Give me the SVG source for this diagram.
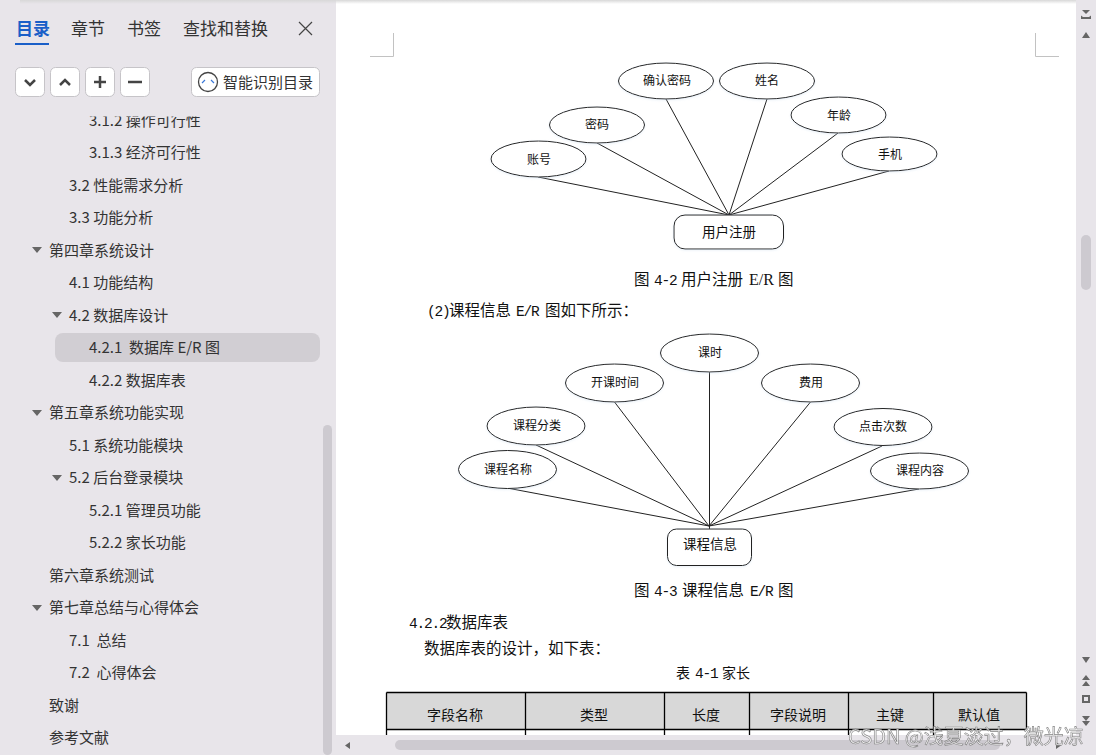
<svg xmlns="http://www.w3.org/2000/svg" width="1096" height="755" viewBox="0 0 1096 755">
<style>
text{font-family:"Noto Sans CJK SC","Noto Sans",sans-serif;fill:#333}
.t{font-size:15px;white-space:pre}
.n{font-size:12px;fill:#111;text-anchor:middle}
.m{font-size:13.500px;fill:#111;text-anchor:middle}
.d{font-size:15.500px;fill:#111}
.h{font-size:14px;fill:#111;text-anchor:middle}
.mono{font-family:"Liberation Mono",monospace;font-size:14.500px;letter-spacing:-1.200px}
.ser{font-family:"Liberation Serif",serif;font-size:16px}
.sh{fill:#fff;stroke:#222;stroke-width:1;filter:url(#glow)}
.ln{stroke:#222;stroke-width:1;fill:none}
.btn{fill:#fff;stroke:#c6c4c8;stroke-width:1}
.ic{fill:none;stroke:#444;stroke-width:2.500}
.tri{fill:#666}
.grid{fill:none;stroke:#000;stroke-width:1.300}
</style>
<defs>
<clipPath id="tc"><rect x="0" y="116.500" width="336" height="639"/></clipPath>
<filter id="glow" x="-10%" y="-15%" width="120%" height="130%"><feDropShadow dx="0" dy="1" stdDeviation="1" flood-color="#c4d6ea" flood-opacity="0.350"/></filter>
<linearGradient id="topsh" x1="0" y1="0" x2="0" y2="1"><stop offset="0" stop-color="#d8d8d8"/><stop offset="1" stop-color="#d8d8d8" stop-opacity="0"/></linearGradient>
</defs>
<rect width="1096" height="755" fill="#fff"/>
<rect x="0" y="0" width="336" height="755" fill="#e8e5ea"/>
<rect x="20" y="0" width="1056" height="4" fill="url(#topsh)"/>
<g id="sidebar-head">
<text x="16" y="35" font-size="17" font-weight="700" style="fill:#1a5fc8">目录</text>
<rect x="15" y="43" width="34" height="2" fill="#1a5fc8"/>
<text x="71" y="35" font-size="17">章节</text>
<text x="127" y="35" font-size="17">书签</text>
<text x="183" y="35" font-size="17">查找和替换</text>
<path d="M299 22L312 35M312 22L299 35" stroke="#444" stroke-width="1.200"/>
</g>
<g id="sidebar-buttons">
<rect class="btn" x="15.500" y="67.500" width="29" height="29" rx="5"/>
<path class="ic" d="M25 80L30 85L35 80"/>
<rect class="btn" x="50.500" y="67.500" width="29" height="29" rx="5"/>
<path class="ic" d="M60 85L65 80L70 85"/>
<rect class="btn" x="85.500" y="67.500" width="29" height="29" rx="5"/>
<path class="ic" d="M94 82H106M100 76V88"/>
<rect class="btn" x="120.500" y="67.500" width="29" height="29" rx="5"/>
<path class="ic" d="M128 82H142"/>
<rect class="btn" x="191.500" y="67.500" width="128" height="29" rx="5"/>
<circle cx="208" cy="82" r="9.500" fill="none" stroke="#444" stroke-width="1.300"/>
<path d="M202 83L205 80M214 83L211 80" stroke="#3a78d8" stroke-width="1.200" fill="none"/>
<text x="223" y="87.500" font-size="15">智能识别目录</text>
</g>
<g id="toc" clip-path="url(#tc)">
<rect x="55" y="333" width="265" height="29" rx="8" fill="#d1ced3"/>
<text class="t" x="89" y="126">3.1.2 操作可行性</text>
<text class="t" x="89" y="158">3.1.3 经济可行性</text>
<text class="t" x="69" y="190.500">3.2 性能需求分析</text>
<text class="t" x="69" y="223">3.3 功能分析</text>
<text class="t" x="49" y="255.500">第四章系统设计</text>
<text class="t" x="69" y="288">4.1 功能结构</text>
<text class="t" x="69" y="320.500">4.2 数据库设计</text>
<text class="t" x="89" y="353">4.2.1  数据库 E/R 图</text>
<text class="t" x="89" y="385.500">4.2.2 数据库表</text>
<text class="t" x="49" y="418">第五章系统功能实现</text>
<text class="t" x="69" y="450.500">5.1 系统功能模块</text>
<text class="t" x="69" y="483">5.2 后台登录模块</text>
<text class="t" x="89" y="515.500">5.2.1 管理员功能</text>
<text class="t" x="89" y="548">5.2.2 家长功能</text>
<text class="t" x="49" y="580.500">第六章系统测试</text>
<text class="t" x="49" y="613">第七章总结与心得体会</text>
<text class="t" x="69" y="645.500">7.1  总结</text>
<text class="t" x="69" y="678">7.2  心得体会</text>
<text class="t" x="49" y="710.500">致谢</text>
<text class="t" x="49" y="743">参考文献</text>
<path class="tri" d="M32 247H42L37 253ZM52 312H62L57 318ZM32 410H42L37 416ZM52 475H62L57 481ZM32 605H42L37 611Z"/>
</g>
<rect x="323" y="425" width="9" height="330" rx="4.500" fill="#cdcad0"/>
<g id="page-marks" class="ln" style="stroke:#c2c2c2">
<path d="M370 56.500H393.500V33"/><path d="M1059 56.500H1035.500V33"/>
</g>
<g id="connectors1" class="ln">
<line x1="538" y1="177" x2="729" y2="215"/>
<line x1="597" y1="143" x2="729" y2="215"/>
<line x1="666" y1="99" x2="729" y2="215"/>
<line x1="767" y1="99" x2="729" y2="215"/>
<line x1="838" y1="133" x2="729" y2="215"/>
<line x1="889" y1="171" x2="729" y2="215"/>
</g>
<g id="er1-zhanghao"><ellipse class="sh" cx="538.500" cy="159" rx="47.500" ry="18"/><text class="n" x="539" y="164">账号</text></g>
<g id="er1-mima"><ellipse class="sh" cx="597" cy="125" rx="47.500" ry="18"/><text class="n" x="597" y="129">密码</text></g>
<g id="er1-queren"><ellipse class="sh" cx="666" cy="81" rx="47.500" ry="18"/><text class="n" x="667" y="85">确认密码</text></g>
<g id="er1-xingming"><ellipse class="sh" cx="767" cy="81" rx="47.500" ry="18"/><text class="n" x="767" y="85">姓名</text></g>
<g id="er1-nianling"><ellipse class="sh" cx="838.500" cy="115" rx="47.500" ry="18"/><text class="n" x="839" y="120">年龄</text></g>
<g id="er1-shouji"><ellipse class="sh" cx="889.500" cy="154" rx="47.500" ry="17"/><text class="n" x="890" y="158.500">手机</text></g>
<g id="er1-root"><rect class="sh" x="674" y="215" width="109.500" height="34" rx="11"/><text class="m" x="729" y="236.500">用户注册</text></g>
<text class="d" x="634" y="285">图<tspan class="mono" x="654">4-2</tspan><tspan x="681">用户注册</tspan><tspan class="ser" x="749">E/R</tspan><tspan x="778">图</tspan></text>
<text class="d" x="427" y="316"><tspan class="mono">(2)</tspan><tspan x="449">课程信息</tspan><tspan class="mono" x="516">E/R</tspan><tspan x="545">图如下所示：</tspan></text>
<g id="connectors2" class="ln">
<line x1="507" y1="488" x2="709" y2="526"/>
<line x1="536" y1="445" x2="709" y2="526"/>
<line x1="614.500" y1="402" x2="709" y2="526"/>
<line x1="709.500" y1="372" x2="709.500" y2="529"/>
<line x1="810.500" y1="402" x2="709" y2="526"/>
<line x1="882" y1="446" x2="709" y2="526"/>
<line x1="919" y1="489" x2="709" y2="526"/>
</g>
<g id="er2-mingcheng"><ellipse class="sh" cx="507.500" cy="469.500" rx="49" ry="19"/><text class="n" x="508" y="473.500">课程名称</text></g>
<g id="er2-fenlei"><ellipse class="sh" cx="536" cy="426" rx="49" ry="19"/><text class="n" x="537" y="430">课程分类</text></g>
<g id="er2-kaike"><ellipse class="sh" cx="614.500" cy="383" rx="49" ry="19"/><text class="n" x="615" y="387">开课时间</text></g>
<g id="er2-keshi"><ellipse class="sh" cx="709.500" cy="353" rx="49" ry="19"/><text class="n" x="710" y="357">课时</text></g>
<g id="er2-feiyong"><ellipse class="sh" cx="810.500" cy="383" rx="49" ry="19"/><text class="n" x="811" y="387">费用</text></g>
<g id="er2-dianji"><ellipse class="sh" cx="883" cy="427" rx="49" ry="18.500"/><text class="n" x="883" y="431">点击次数</text></g>
<g id="er2-neirong"><ellipse class="sh" cx="919.500" cy="471" rx="49" ry="18"/><text class="n" x="920" y="475">课程内容</text></g>
<g id="er2-root"><rect class="sh" x="667.500" y="529" width="84" height="36.500" rx="9"/><text class="m" x="710" y="548.500">课程信息</text></g>
<text class="d" x="634" y="596">图<tspan class="mono" x="654">4-3</tspan><tspan x="682">课程信息</tspan><tspan class="mono" x="750">E/R</tspan><tspan x="778">图</tspan></text>
<text class="d" x="409" y="628"><tspan class="mono">4.2.2</tspan><tspan x="446">数据库表</tspan></text>
<text class="d" x="424" y="654">数据库表的设计，如下表：</text>
<text x="676" y="678" font-size="14" style="fill:#111">表<tspan class="mono" x="695">4-1</tspan><tspan x="722">家长</tspan></text>
<g id="table">
<rect x="386.500" y="692.500" width="640" height="37" fill="#d8d8d8" stroke="none"/>
<path class="grid" d="M386.500 692.500H1026.500M386.500 729.500H1026.500M386.500 692.500V735M525.500 692.500V735M664.500 692.500V735M749.500 692.500V735M848.500 692.500V735M933.500 692.500V735M1026.500 692.500V729.500"/>
<text class="h" x="455" y="720">字段名称</text>
<text class="h" x="594" y="720">类型</text>
<text class="h" x="706" y="720">长度</text>
<text class="h" x="798" y="720">字段说明</text>
<text class="h" x="890" y="720">主键</text>
<text class="h" x="979" y="720">默认值</text>
</g>
<g id="scrollbars">
<rect x="1076" y="0" width="20" height="755" fill="#e8e5ea"/>
<rect x="336" y="735" width="760" height="20" fill="#e8e5ea"/>
<rect x="1081" y="235" width="10" height="55" rx="5" fill="#cdcad0"/>
<rect x="395" y="740" width="605" height="10" rx="5" fill="#cdcad0"/>
<path d="M1082 10H1090L1086 14ZM1081 15.500V19H1091V15.500L1089 17H1083Z" fill="#666"/>
<path class="tri" d="M1082 38L1086 32L1090 38ZM1082 657H1090L1086 663ZM1082 680L1086 675L1090 680ZM1082 686L1086 681L1090 686ZM1082 716H1090L1086 721ZM1082 721H1090L1086 726ZM350 742V749L345 745.500ZM1056 742V749L1061 745.500Z"/>
<rect x="1083" y="696" width="6" height="6" fill="none" stroke="#666" stroke-width="2"/>
</g>
<text id="watermark" x="848" y="744" font-size="20" style="fill:#f4f4f4;stroke:#777;stroke-width:.6;opacity:.9">CSDN @浅夏淡过，微光凉</text>
</svg>
